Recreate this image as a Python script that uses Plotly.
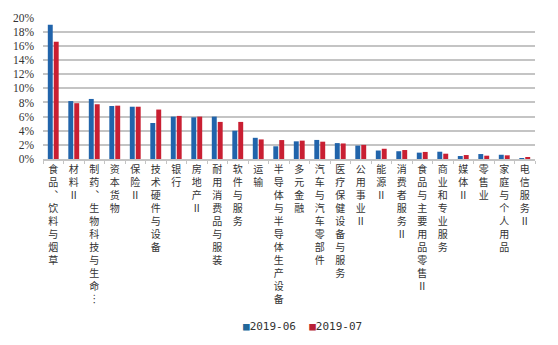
import plotly.graph_objects as go

categories = [
    "食品︑饮料与烟草", "材料Ⅱ", "制药︑生物科技与生命︙", "资本货物", "保险Ⅱ",
    "技术硬件与设备", "银行", "房地产Ⅱ", "耐用消费品与服装", "软件与服务",
    "运输", "半导体与半导体生产设备", "多元金融", "汽车与汽车零部件",
    "医疗保健设备与服务", "公用事业Ⅱ", "能源Ⅱ", "消费者服务Ⅱ",
    "食品与主要用品零售Ⅱ", "商业和专业服务", "媒体Ⅱ", "零售业",
    "家庭与个人用品", "电信服务Ⅱ",
]
jun = [19.0, 8.2, 8.5, 7.5, 7.4, 5.1, 6.0, 5.9, 6.0, 4.0, 3.0, 1.8, 2.5, 2.7,
       2.25, 1.9, 1.2, 1.1, 0.9, 1.03, 0.42, 0.7, 0.6, 0.05]
jul = [16.6, 7.9, 7.75, 7.55, 7.4, 7.0, 6.1, 6.0, 5.25, 5.25, 2.77, 2.68, 2.6,
       2.45, 2.2, 2.0, 1.45, 1.27, 1.0, 0.75, 0.56, 0.47, 0.52, 0.15]
series_names = ["2019-06", "2019-07"]
yticks = list(range(0, 21, 2))

BLUE = "#2164ab"
RED = "#c91f32"

ticktext = ["<br>".join(list(c)) for c in categories]

fig = go.Figure()
for name, vals, col in [(series_names[0], jun, BLUE), (series_names[1], jul, RED)]:
    fig.add_trace(go.Bar(x=categories, y=vals, name=name, marker_color=col,
                         marker_line_width=0, showlegend=False))

legend_text = "&nbsp;&nbsp;".join(
    f'<span style="color:{c}">■</span>{n}' for n, c in zip(series_names, ["#22689a", "#b81f36"])
)
fig.add_annotation(text=legend_text, xref="paper", yref="paper", x=0.528, y=-1.183,
                   xanchor="center", yanchor="middle", showarrow=False,
                   font=dict(family="DejaVu Sans Mono", size=11, color="#333"))

fig.update_layout(
    width=558, height=345,
    margin=dict(l=43, r=23, t=17, b=186),
    paper_bgcolor="white", plot_bgcolor="white",
    barmode="group", bargap=0.42, bargroupgap=0.17,
    showlegend=False,
    xaxis=dict(type="category", tickmode="array", tickvals=categories, ticktext=ticktext,
               tickangle=0,
               tickfont=dict(family="Liberation Sans, Noto Sans CJK SC", size=10, color="#333"),
               showline=True, linecolor="#c4c4c4", linewidth=1.5,
               ticks="outside", tickson="boundaries", ticklen=3, tickcolor="#c4c4c4",
               showgrid=False),
    yaxis=dict(range=[0, 20.1], tickvals=yticks, ticktext=[f"{v}%" for v in yticks],
               tickfont=dict(family="Liberation Serif", size=11.5, color="#333"),
               ticklabelstandoff=8,
               showgrid=True, gridcolor="#c4c4c4", gridwidth=1.5,
               zeroline=False, showline=False, ticks=""),
)

fig.write_html("out.html")
